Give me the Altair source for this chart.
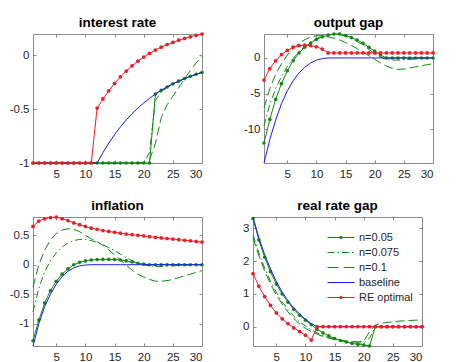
import altair as alt
import pandas as pd

T = list(range(1, 31))
SERIES = ["n=0.05", "n=0.075", "n=0.1", "baseline", "RE optimal"]
X_TICKS = [5, 10, 15, 20, 25, 30]

# ---- interest rate ----
ir_n005 = [-1, -1, -1, -1, -1, -1, -1, -1, -1, -1, -1, -1, -1, -1, -1, -1, -1, -1, -1, -1, -1,
           -0.36, -0.325, -0.294, -0.265, -0.24, -0.216, -0.195, -0.176, -0.159]
ir_n0075 = [-1, -1, -1, -1, -1, -1, -1, -1, -1, -1, -1, -1, -1, -1, -1, -1, -1, -1, -1, -1, -0.9,
            -0.42, -0.34, -0.3, -0.27, -0.24, -0.215, -0.195, -0.175, -0.158]
ir_n01 = [-1, -1, -1, -1, -1, -1, -1, -1, -1, -1, -1, -1, -1, -1, -1, -1, -1, -1, -1, -1, -0.97,
          -0.82, -0.58, -0.46, -0.38, -0.3, -0.22, -0.14, -0.07, -0.01]
ir_base = [-1, -1, -1, -1, -1, -1, -1, -1, -1, -1, -1, -1, -0.903, -0.815, -0.736, -0.665, -0.6,
           -0.542, -0.49, -0.442, -0.399, -0.36, -0.325, -0.294, -0.265, -0.24, -0.216, -0.195,
           -0.176, -0.159]
ir_re = [-1, -1, -1, -1, -1, -1, -1, -1, -1, -1, -1, -0.49, -0.405, -0.33, -0.26, -0.2, -0.146,
         -0.097, -0.054, -0.016, 0.018, 0.049, 0.076, 0.1, 0.12, 0.14, 0.157, 0.172, 0.186, 0.198]

# ---- output gap ----
og_n005 = [-11.9, -8.6, -5.8, -3.6, -1.8, -0.4, 0.7, 1.5, 2.1, 2.6, 2.95, 3.2, 3.35, 3.35, 3.15,
           2.85, 2.5, 2.05, 1.5, 0.95, 0.4, 0, 0, 0, 0, 0, 0, 0, 0, 0]
og_n0075 = [-9.5, -6.5, -4.3, -2.6, -1.2, -0.1, 0.85, 1.6, 2.2, 2.7, 3.05, 3.25, 3.3, 3.25, 3.05,
            2.75, 2.3, 1.8, 1.2, 0.6, 0.1, -0.2, -0.3, -0.3, -0.25, -0.2, -0.15, -0.1, -0.08, -0.05]
og_n01 = [-7.0, -4.3, -2.3, -0.8, 0.4, 1.3, 2.0, 2.55, 2.9, 3.1, 3.1, 2.95, 2.75, 2.5, 2.15, 1.75,
          1.3, 0.8, 0.3, -0.2, -0.7, -1.15, -1.45, -1.6, -1.55, -1.4, -1.25, -1.1, -0.95, -0.8]
og_base = [-14.7, -11.4, -8.7, -6.4, -4.6, -3.2, -2.1, -1.3, -0.7, -0.3, -0.1, 0, 0, 0, 0, 0, 0,
           0, 0, 0, 0, 0, 0, 0, 0, 0, 0, 0, 0, 0]
og_re = [-3.1, -1.5, -0.4, 0.45, 1.05, 1.5, 1.72, 1.8, 1.72, 1.55, 1.25, 0.7, 0.7, 0.7, 0.7, 0.7,
         0.7, 0.7, 0.7, 0.7, 0.7, 0.7, 0.7, 0.7, 0.7, 0.7, 0.7, 0.7, 0.7, 0.7]

# ---- inflation ----
inf_n005 = [-1.29, -0.94, -0.65, -0.44, -0.28, -0.16, -0.07, 0.0, 0.04, 0.065, 0.08, 0.088, 0.09,
            0.09, 0.088, 0.08, 0.065, 0.045, 0.025, 0.01, 0, 0, 0, 0, 0, 0, 0, 0, 0, 0]
inf_n0075 = [-0.8, -0.4, -0.12, 0.07, 0.2, 0.3, 0.37, 0.41, 0.43, 0.43, 0.41, 0.38, 0.34, 0.29,
             0.24, 0.18, 0.12, 0.07, 0.03, 0.0, -0.02, -0.03, -0.03, -0.02, -0.02, -0.01, -0.01,
             0, 0, 0]
inf_n01 = [-0.38, 0.0, 0.25, 0.42, 0.53, 0.59, 0.61, 0.6, 0.56, 0.5, 0.44, 0.39, 0.33, 0.25, 0.17,
           0.08, -0.01, -0.09, -0.16, -0.21, -0.25, -0.28, -0.28, -0.27, -0.25, -0.22, -0.19,
           -0.16, -0.13, -0.1]
inf_base = [-1.38, -1.0, -0.71, -0.5, -0.33, -0.2, -0.11, -0.055, -0.02, -0.005, 0, 0, 0, 0, 0, 0,
            0, 0, 0, 0, 0, 0, 0, 0, 0, 0, 0, 0, 0, 0]
inf_re = [0.65, 0.74, 0.78, 0.8, 0.81, 0.78, 0.75, 0.71, 0.68, 0.65, 0.62, 0.6, 0.58, 0.565, 0.55,
          0.535, 0.52, 0.51, 0.5, 0.49, 0.475, 0.465, 0.455, 0.445, 0.435, 0.425, 0.415, 0.405,
          0.395, 0.385]

# ---- real rate gap ----
rr_n005 = [3.3, 2.65, 2.12, 1.68, 1.3, 1.0, 0.75, 0.53, 0.35, 0.2, 0.06, -0.08, -0.19, -0.28,
           -0.36, -0.42, -0.47, -0.51, -0.54, -0.56, -0.59, 0, 0, 0, 0, 0, 0, 0, 0, 0]
rr_n0075 = [2.8, 2.26, 1.79, 1.39, 1.05, 0.76, 0.52, 0.32, 0.15, 0.02, -0.1, -0.19, -0.27, -0.33,
            -0.38, -0.42, -0.45, -0.48, -0.5, -0.5, -0.35, 0, 0, 0, 0, 0, 0, 0, 0, 0]
rr_n01 = [2.72, 2.17, 1.7, 1.3, 0.97, 0.69, 0.45, 0.25, 0.08, -0.05, -0.15, -0.23, -0.3, -0.35,
          -0.39, -0.42, -0.44, -0.45, -0.46, -0.45, -0.15, 0.05, 0.1, 0.13, 0.15, 0.17, 0.18, 0.19,
          0.2, 0.2]
rr_base = [3.35, 2.72, 2.2, 1.76, 1.38, 1.06, 0.79, 0.57, 0.39, 0.22, 0.09, 0, 0, 0, 0, 0, 0, 0,
           0, 0, 0, 0, 0, 0, 0, 0, 0, 0, 0, 0]
rr_re = [1.62, 1.24, 0.92, 0.65, 0.42, 0.24, 0.09, -0.04, -0.15, -0.26, -0.41, 0, 0, 0, 0, 0, 0, 0,
         0, 0, 0, 0, 0, 0, 0, 0, 0, 0, 0, 0]

PANELS = [
    ("interest rate", [ir_n005, ir_n0075, ir_n01, ir_base, ir_re], [-1, -0.5, 0]),
    ("output gap", [og_n005, og_n0075, og_n01, og_base, og_re], [-10, -5, 0]),
    ("inflation", [inf_n005, inf_n0075, inf_n01, inf_base, inf_re], [-1, -0.5, 0, 0.5]),
    ("real rate gap", [rr_n005, rr_n0075, rr_n01, rr_base, rr_re], [0, 1, 2, 3]),
]

GREEN = "#118811"
BLUE = "#1a1aee"
RED = "#ee1c25"
COLORS = [GREEN, GREEN, GREEN, BLUE, RED]
FONT = "Liberation Sans"
FRAME = "#8c8c8c"
TXT = "#262626"
W, H = 169, 129
TICK = 3
HSPACE, VSPACE = 37, 18

# legend glyphs (unit square paths): line, dash-dot, dashes, with dots where markers are used
DOT = "M0.1,0A0.1,0.1 0 1,1 -0.1,0A0.1,0.1 0 1,1 0.1,0M0.04,0A0.04,0.04 0 1,1 -0.04,0A0.04,0.04 0 1,1 0.04,0"
PATHS = [
    "M-1,0L1,0" + DOT,
    "M-1,0L-0.48,0M-0.26,0L-0.15,0M0.07,0L0.59,0M0.81,0L0.92,0",
    "M-1,0L-0.2,0M0.2,0L1,0",
    "M-1,0L1,0",
    "M-1,0L1,0" + DOT,
]


def axis(orient, values, labels):
    kw = dict(values=values, title=None, grid=False, domain=False, tickSize=TICK,
              offset=-TICK, tickColor=FRAME, tickWidth=1, orient=orient, labels=labels)
    if labels:
        kw.update(labelFont=FONT, labelFontSize=11.5, labelColor=TXT,
                  labelPadding=5 if orient == "bottom" else 4,
                  labelExpr="datum.value + ''")
    return alt.Axis(**kw)


def make_panel(title, vals, yticks, legend=False):
    rows = []
    for name, series in zip(SERIES, vals):
        for t, v in zip(T, series):
            rows.append({"t": t, "v": v, "s": name})
    df = pd.DataFrame(rows)
    allv = [v for s in vals for v in s]
    xs = alt.Scale(domain=[1, 30], nice=False, zero=False)
    ys = alt.Scale(domain=[min(allv), max(allv)], nice=False, zero=False)
    base = alt.Chart(df)

    def enc(ax=None, ay=None):
        return dict(x=alt.X("t:Q", scale=xs, axis=ax), y=alt.Y("v:Q", scale=ys, axis=ay))

    def sel(name):
        return base.transform_filter(alt.datum.s == name)

    layers = [
        sel("n=0.05").mark_line(color=GREEN, strokeWidth=1).encode(
            **enc(axis("bottom", X_TICKS, True), axis("left", yticks, True))),
        sel("n=0.05").mark_circle(color=GREEN, size=13, opacity=1).encode(**enc()),
        sel("n=0.075").mark_line(color=GREEN, strokeWidth=1, strokeDash=[7, 3, 1.5, 3]).encode(**enc()),
        sel("n=0.1").mark_line(color=GREEN, strokeWidth=1, strokeDash=[9, 4]).encode(**enc()),
        sel("baseline").mark_line(color=BLUE, strokeWidth=1).encode(**enc()),
        sel("RE optimal").mark_line(color=RED, strokeWidth=1).encode(
            **enc(axis("top", X_TICKS, False), axis("right", yticks, False))),
        sel("RE optimal").mark_circle(color=RED, size=14, opacity=1).encode(**enc()),
    ]
    if legend:
        # legend coordinates are measured from the top-left plot's origin
        lg = alt.Legend(title=None, orient="none", legendX=294,
                        legendY=196, symbolSize=729,
                        clipHeight=15, rowPadding=0, labelOffset=4, labelFont=FONT,
                        labelFontSize=11, labelColor=TXT, symbolStrokeWidth=1, padding=0)
        layers.append(
            base.transform_filter("false").mark_point(filled=False, strokeWidth=1, opacity=1).encode(
                color=alt.Color("s:N", scale=alt.Scale(domain=SERIES, range=COLORS), legend=lg),
                shape=alt.Shape("s:N", scale=alt.Scale(domain=SERIES, range=PATHS), legend=lg),
            )
        )
    return alt.layer(*layers).resolve_axis(x="independent", y="independent").properties(
        width=W, height=H,
        title=alt.Title(title, font=FONT, fontSize=13.5, fontWeight="bold", color="black",
                        offset=3, anchor="middle", frame="group"),
    )


p = [make_panel(t, v, y, legend=(i == 3)) for i, (t, v, y) in enumerate(PANELS)]

chart = alt.vconcat(
    alt.hconcat(p[0], p[1], spacing=HSPACE),
    alt.hconcat(p[2], p[3], spacing=HSPACE),
    spacing=VSPACE,
).properties(
    padding={"left": 0, "top": 7, "right": 0, "bottom": 0},
    background="white",
).configure_view(stroke=FRAME, strokeWidth=1)

chart.save("out.html", embed_options={"renderer": "svg", "actions": False})
